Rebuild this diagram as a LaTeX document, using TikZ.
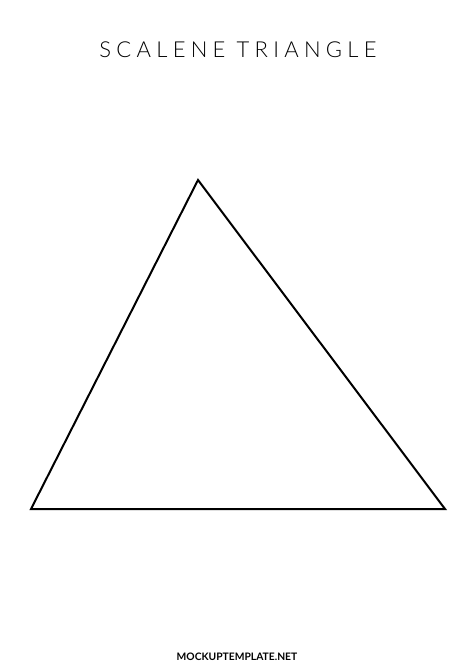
\documentclass[tikz,border=0pt]{standalone}
\usepackage{fontspec}
\setmainfont{Lato}
\newfontfamily\titlefont[LetterSpace=24,UprightFont=* Light]{Lato}
\newfontfamily\footfont{Lato}
\begin{document}
\begin{tikzpicture}[x=1pt,y=-1pt,line join=miter]
            \useasboundingbox(0,0)rectangle(474,669);
            \node(title)at(238,50){\fontsize{22}{22}\selectfont\titlefont SCALENE TRIANGLE};
            \coordinate(top)at(198,180);
            \coordinate(left)at(31,509);
            \coordinate(right)at(445,509);
            \draw[line width=2pt](top)--(left)--(right)--cycle;
            \node(foot)at(237,657){\fontsize{10.3}{10.3}\selectfont\footfont\bfseries MOCKUPTEMPLATE.NET};
        \end{tikzpicture}
\end{document}
